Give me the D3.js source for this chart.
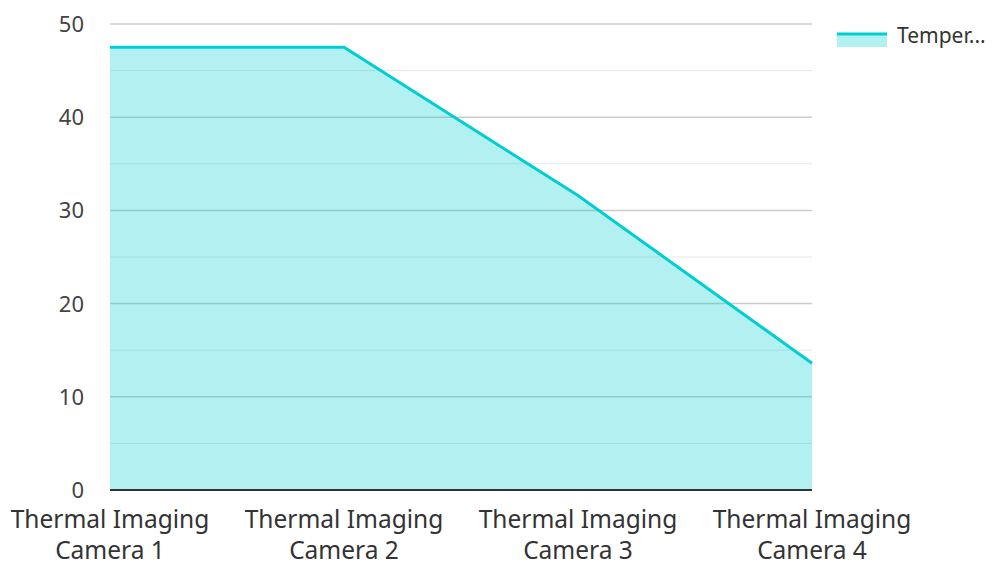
<!DOCTYPE html>
<html><head><meta charset="utf-8">
<script src="https://cdn.jsdelivr.net/npm/d3@7"></script>
<style>body{margin:0;background:#fff}svg{display:block}text{font-family:"Noto Sans",sans-serif}</style>
</head><body>
<svg id="c" width="1002" height="562"></svg>
<script>
const categories = ["Thermal Imaging Camera 1","Thermal Imaging Camera 2","Thermal Imaging Camera 3","Thermal Imaging Camera 4"];
const temperature = [47.5, 47.5, 31.6, 13.6];
const yTicks = [0,10,20,30,40,50];
const minorTicks = [5,15,25,35,45];
const seriesName = "Temper...";

const svg = d3.select("#c");
const L=110,R=812,T=24,B=490;
const x = d3.scalePoint().domain(categories).range([L,R]);
const y = d3.scaleLinear().domain([0,50]).range([B,T]);
const color="#00CED1";

svg.append("g").selectAll("line").data(minorTicks).join("line")
  .attr("x1",L).attr("x2",R).attr("y1",d=>y(d)).attr("y2",d=>y(d))
  .attr("stroke","#e6e6e6").attr("stroke-width",1);
svg.append("g").selectAll("line").data(yTicks.filter(d=>d>0)).join("line")
  .attr("x1",L).attr("x2",R).attr("y1",d=>y(d)).attr("y2",d=>y(d))
  .attr("stroke","#cccccc").attr("stroke-width",1.5);

const data = categories.map((c,i)=>({c,v:temperature[i]}));
svg.append("path").datum(data)
  .attr("d",d3.area().x(d=>x(d.c)).y0(y(0)).y1(d=>y(d.v)))
  .attr("fill",color).attr("fill-opacity",0.3);
svg.append("path").datum(data)
  .attr("d",d3.line().x(d=>x(d.c)).y(d=>y(d.v)))
  .attr("fill","none").attr("stroke",color).attr("stroke-width",3);

svg.append("line").attr("x1",L).attr("x2",R).attr("y1",B).attr("y2",B)
  .attr("stroke","#333").attr("stroke-width",2);

svg.append("g").selectAll("text").data(yTicks).join("text")
  .attr("x",84).attr("y",d=>y(d)+8).attr("text-anchor","end")
  .attr("font-size",22).attr("fill","#444").text(d=>d);

const xl = svg.append("g").selectAll("text").data(categories).join("text")
  .attr("text-anchor","middle").attr("font-size",24.5).attr("fill","#333");
xl.each(function(d){
  const parts=[d.replace(/ Camera.*/,""), d.replace(/^.*?(Camera)/,"$1")];
  const t=d3.select(this);
  parts.forEach((p,i)=>t.append("tspan").attr("x",x(d)).attr("y",528+i*31).text(p));
});

const lg = svg.append("g");
lg.append("rect").attr("x",837).attr("y",34).attr("width",50).attr("height",13).attr("fill",color).attr("fill-opacity",0.3);
lg.append("line").attr("x1",837).attr("x2",887).attr("y1",34).attr("y2",34).attr("stroke",color).attr("stroke-width",3);
lg.append("text").attr("x",897).attr("y",43).attr("font-size",21).attr("fill","#333").text(seriesName);
</script>
</body></html>
